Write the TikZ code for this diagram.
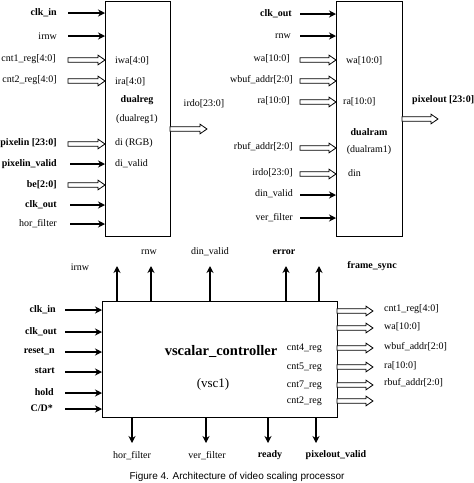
\documentclass[tikz,border=0pt]{standalone}
\usepackage{fontspec}
\setmainfont{Liberation Serif}
\newfontfamily\capfont{Liberation Sans}
\usetikzlibrary{arrows.meta,calc}
\newcommand\busarr[2]{\draw[busline] let \p1=(#1), \p2=(#2) in (\x1,\y1+2.3pt) -- (\x2-7pt,\y1+2.3pt) -- (\x2-7pt,\y1+4.8pt) -- (\x2,\y1) -- (\x2-7pt,\y1-4.8pt) -- (\x2-7pt,\y1-2.3pt) -- (\x1,\y1-2.3pt) -- cycle;}
\begin{document}
\begin{tikzpicture}[x=1pt,y=-1pt,font=\fontsize{10}{12}\selectfont,
  box/.style={draw,line width=1pt,inner sep=0pt,outer sep=0pt},
  sig/.style={line width=1.1pt,-{Stealth[length=7pt,width=7pt]}},
  thicksig/.style={line width=1.6pt,-{Stealth[length=7pt,width=7pt]}},
  busline/.style={draw,line width=0.8pt,fill=white,line join=miter},
  lbl/.style={inner sep=0pt,anchor=east},
  ilbl/.style={inner sep=0pt,anchor=west},
  clbl/.style={inner sep=0pt},
  bf/.style={font=\fontsize{10}{12}\selectfont\bfseries}]
\useasboundingbox (0,0) rectangle (474,483);

% ---------- blocks ----------
\node[box,minimum width=65pt,minimum height=235pt,anchor=north west] (dualreg) at (105,1) {};
\node[box,minimum width=66pt,minimum height=235pt,anchor=north west] (dualram) at (336,1) {};
\node[box,minimum width=235pt,minimum height=116pt,anchor=north west] (vsc) at (102,301) {};

% ---------- dualreg ----------
\node[clbl,bf] (dregname) at (137,100) {dualreg};
\node[clbl] (dreginst) at (137,119) {(dualreg1)};
\node[ilbl] (iwa) at (115,61) {iwa[4:0]};
\node[ilbl] (ira) at (115,82) {ira[4:0]};
\node[ilbl] (di) at (115,143) {di (RGB)};
\node[ilbl] (div) at (115,164) {di\_valid};

\node[lbl,bf] (a1l) at (57,13) {clk\_in};   \coordinate (a1) at (68,13);
\node[lbl] (a2l) at (57,36) {irnw};          \coordinate (a2) at (68,36);
\node[lbl] (a3l) at (56,59) {cnt1\_reg[4:0]}; \coordinate (a3) at (68,60);
\node[lbl] (a4l) at (57,80) {cnt2\_reg[4:0]}; \coordinate (a4) at (68,81);
\node[lbl,bf] (a5l) at (57,143) {pixelin [23:0]}; \coordinate (a5) at (68,144);
\node[lbl,bf] (a6l) at (57,164) {pixelin\_valid}; \coordinate (a6) at (70,164);
\node[lbl,bf] (a7l) at (57,185) {be[2:0]};   \coordinate (a7) at (68,185);
\node[lbl,bf] (a8l) at (57,205) {clk\_out};  \coordinate (a8) at (70,205);
\node[lbl] (a9l) at (57,224) {hor\_filter};  \coordinate (a9) at (70,224);
\draw[sig] (a1) -- (a1 -| dualreg.west);
\draw[sig] (a2) -- (a2 -| dualreg.west);
\busarr{a3}{a3 -| dualreg.west}
\busarr{a4}{a4 -| dualreg.west}
\busarr{a5}{a5 -| dualreg.west}
\draw[sig] (a6) -- (a6 -| dualreg.west);
\busarr{a7}{a7 -| dualreg.west}
\draw[sig] (a8) -- (a8 -| dualreg.west);
\draw[sig] (a9) -- (a9 -| dualreg.west);

\node[clbl] (irdol) at (204,104) {irdo[23:0]};
\coordinate (irdoend) at (207,129);
\busarr{irdoend -| dualreg.east}{irdoend}

% ---------- dualram ----------
\node[clbl,bf] (dramname) at (369,132) {dualram};
\node[clbl] (draminst) at (369,150) {(dualram1)};
\node[ilbl] (wai) at (346,61) {wa[10:0]};
\node[ilbl] (rai) at (343,102) {ra[10:0]};
\node[ilbl] (dini) at (348,173) {din};

\node[lbl,bf] (b1l) at (292,14) {clk\_out};  \coordinate (b1) at (300,14);
\node[lbl] (b2l) at (291,36) {rnw};           \coordinate (b2) at (300,36);
\node[lbl] (b3l) at (290,59) {wa[10:0]};      \coordinate (b3) at (300,60);
\node[lbl] (b4l) at (293,80) {wbuf\_addr[2:0]}; \coordinate (b4) at (300,81);
\node[lbl] (b5l) at (290,101) {ra[10:0]};     \coordinate (b5) at (300,102);
\node[lbl] (b6l) at (293,147) {rbuf\_addr[2:0]}; \coordinate (b6) at (300,148);
\node[lbl] (b7l) at (293,173) {irdo[23:0]};   \coordinate (b7) at (300,174);
\node[lbl] (b8l) at (293,194) {din\_valid};   \coordinate (b8) at (300,195);
\node[lbl] (b9l) at (293,218) {ver\_filter};  \coordinate (b9) at (300,218);
\draw[sig] (b1) -- (b1 -| dualram.west);
\draw[sig] (b2) -- (b2 -| dualram.west);
\busarr{b3}{b3 -| dualram.west}
\busarr{b4}{b4 -| dualram.west}
\busarr{b5}{b5 -| dualram.west}
\busarr{b6}{b6 -| dualram.west}
\busarr{b7}{b7 -| dualram.west}
\draw[sig] (b8) -- (b8 -| dualram.west);
\draw[sig] (b9) -- (b9 -| dualram.west);

\node[inner sep=0pt,anchor=west,bf] (pixoutl) at (412,100) {pixelout [23:0]};
\coordinate (pixoutend) at (438,119);
\busarr{pixoutend -| dualram.east}{pixoutend}

% ---------- vscalar_controller ----------
\node[clbl,font=\fontsize{14.5}{16}\selectfont\bfseries] (vscname) at (221,351) {vscalar\_controller};
\node[clbl,font=\fontsize{13}{15}\selectfont] (vscinst) at (213,384) {(vsc1)};

\node[lbl,bf] (c1l) at (56,310) {clk\_in};  \coordinate (c1) at (65,310);
\node[lbl,bf] (c2l) at (57,332) {clk\_out}; \coordinate (c2) at (65,332);
\node[lbl,bf] (c3l) at (55,351) {reset\_n}; \coordinate (c3) at (65,352);
\node[lbl,bf] (c4l) at (55,371) {start};    \coordinate (c4) at (65,372);
\node[lbl,bf] (c5l) at (54,392) {hold};     \coordinate (c5) at (65,393);
\node[lbl,bf] (c6l) at (53,408) {C/D*};     \coordinate (c6) at (65,409);
\foreach \c in {c1,c2,c3,c4,c5,c6} \draw[sig] (\c) -- (\c -| vsc.west);

% top outputs
\node[clbl] (t1l) at (80,267) {irnw};        \coordinate (t1) at (117,266);
\node[clbl] (t2l) at (149,252) {rnw};        \coordinate (t2) at (151,266);
\node[clbl] (t3l) at (210,252) {din\_valid}; \coordinate (t3) at (210,266);
\node[clbl,bf] (t4l) at (284,252) {error};   \coordinate (t4) at (286,266);
\node[clbl,bf] (t5l) at (372,266) {frame\_sync}; \coordinate (t5) at (319,266);
\draw[sig] (t1 |- vsc.north) -- (t1);
\draw[sig] (t2 |- vsc.north) -- (t2);
\draw[thicksig] (t3 |- vsc.north) -- (t3);
\draw[sig] (t4 |- vsc.north) -- (t4);
\draw[sig] (t5 |- vsc.north) -- (t5);

% bottom outputs
\node[clbl] (u1l) at (132,456) {hor\_filter};      \coordinate (u1) at (132,443);
\node[clbl] (u2l) at (207,456) {ver\_filter};      \coordinate (u2) at (206,443);
\node[clbl,bf] (u3l) at (270,455) {ready};         \coordinate (u3) at (268,443);
\node[clbl,bf] (u4l) at (336,455) {pixelout\_valid}; \coordinate (u4) at (316,443);
\draw[sig] (u1 |- vsc.south) -- (u1);
\draw[sig] (u2 |- vsc.south) -- (u2);
\draw[sig] (u3 |- vsc.south) -- (u3);
\draw[sig] (u4 |- vsc.south) -- (u4);

% right bus outputs
\node[lbl] (cnt4) at (322,348) {cnt4\_reg};
\node[lbl] (cnt5) at (322,367) {cnt5\_reg};
\node[lbl] (cnt7) at (322,385) {cnt7\_reg};
\node[lbl] (cnt2) at (322,401) {cnt2\_reg};
\node[ilbl] (r1l) at (384,309) {cnt1\_reg[4:0]}; \coordinate (r1) at (373,311);
\node[ilbl] (r2l) at (384,327) {wa[10:0]};       \coordinate (r2) at (373,328);
\node[ilbl] (r3l) at (384,347) {wbuf\_addr[2:0]}; \coordinate (r3) at (373,348);
\node[ilbl] (r4l) at (384,366) {ra[10:0]};       \coordinate (r4) at (373,367);
\node[ilbl] (r5l) at (384,383) {rbuf\_addr[2:0]}; \coordinate (r5) at (373,385);
\coordinate (r6) at (373,401);
\busarr{r1 -| vsc.east}{r1}
\busarr{r2 -| vsc.east}{r2}
\busarr{r3 -| vsc.east}{r3}
\busarr{r4 -| vsc.east}{r4}
\busarr{r5 -| vsc.east}{r5}
\busarr{r6 -| vsc.east}{r6}

% caption
\node[inner sep=0pt,font=\capfont\fontsize{10}{12}\selectfont] (caption) at (237,477) {Figure 4. Architecture of video scaling processor};
\end{tikzpicture}
\end{document}
